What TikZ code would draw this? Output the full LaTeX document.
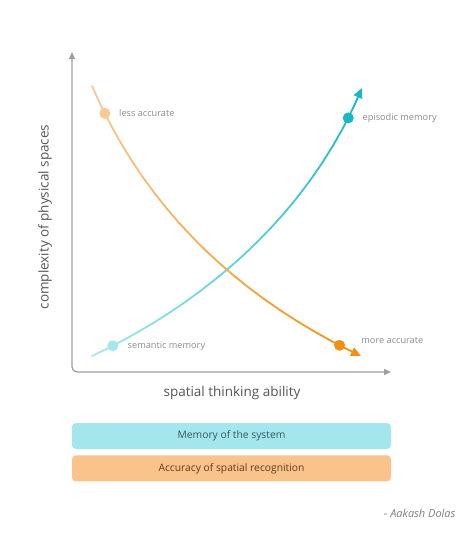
\documentclass[tikz,border=0pt]{standalone}
\usepackage{fontspec}
\setmainfont{Open Sans}
\usepackage{xcolor}
\usetikzlibrary{arrows.meta, positioning}
\definecolor{axisgray}{HTML}{9E9E9E}
\definecolor{labelgray}{HTML}{8C8C8C}
\definecolor{titlegray}{HTML}{555555}
\definecolor{tealdark}{HTML}{19B8C4}
\definecolor{teallight}{HTML}{A8E6EB}
\definecolor{orangedark}{HTML}{F29012}
\definecolor{orangelight}{HTML}{F8C994}
\definecolor{tealbar}{HTML}{A3E7EC}
\definecolor{orangebar}{HTML}{F9C38B}
\definecolor{tealtext}{HTML}{35585C}
\definecolor{orangetext}{HTML}{5C3E22}

\begin{document}
\begin{tikzpicture}[x=1pt, y=-1pt,
  axis/.style={line width=1.2pt, color=axisgray, rounded corners=5pt,
    {Triangle[length=7pt, width=6pt]}-{Triangle[length=7pt, width=6pt]}},
  curve/.style={line width=1.8pt, line cap=round},
  tip/.style={-{Triangle[length=10pt, width=9pt]}},
  dot/.style={circle, minimum size=11pt, inner sep=0pt},
  lbl/.style={font=\fontsize{9.2}{11}\selectfont, text=labelgray, inner sep=0pt},
  axislbl/.style={font=\fontsize{13.5}{16}\selectfont, text=titlegray},
  bar/.style={rectangle, rounded corners=4pt, minimum width=319pt, minimum height=26pt,
    font=\fontsize{10.3}{12}\selectfont}]

  \useasboundingbox (0,0) rectangle (474,534);

  % axes
  \coordinate (ytop) at (72,52);
  \coordinate (xend) at (391,372);
  \draw[axis] (ytop) |- (xend);
  \node[axislbl] (xlabel) at (232,393) {spatial thinking ability};
  \node[axislbl, rotate=90] (ylabel) at (45,217) {complexity of physical spaces};

  % memory curve
  \coordinate (tstart) at (92,356);
  \coordinate (tc1) at (190,310);
  \coordinate (tc2) at (305,225);
  \coordinate (tend) at (362,88);
  \foreach \i [evaluate=\i as \t using \i/20] in {0,...,20}
    \path (tstart) .. controls (tc1) and (tc2) .. (tend) coordinate[pos=\t] (t\i);
  \foreach \i [evaluate=\i as \p using int(100*\i/19), count=\j from 1] in {0,...,18}
    \draw[curve, color=tealdark!\p!teallight] (t\i) -- (t\j);
  \draw[curve, tip, tealdark] (t19) -- (t20);

  % accuracy curve
  \coordinate (ostart) at (92,86);
  \coordinate (oc1) at (150,220);
  \coordinate (oc2) at (250,303);
  \coordinate (oend) at (361,356);
  \foreach \i [evaluate=\i as \t using \i/20] in {0,...,20}
    \path (ostart) .. controls (oc1) and (oc2) .. (oend) coordinate[pos=\t] (o\i);
  \foreach \i [evaluate=\i as \p using int(100*\i/19), count=\j from 1] in {0,...,18}
    \draw[curve, color=orangedark!\p!orangelight] (o\i) -- (o\j);
  \draw[curve, tip, orangedark] (o19) -- (o20);

  % points
  \path (tstart) .. controls (tc1) and (tc2) .. (tend)
    node[dot, fill=teallight, pos=0.07] (semantic) {}
    node[dot, fill=tealdark, pos=0.925] (episodic) {};
  \path (ostart) .. controls (oc1) and (oc2) .. (oend)
    node[dot, fill=orangelight, pos=0.07] (less) {}
    node[dot, fill=orangedark, pos=0.935] (more) {};

  \node[lbl, right=9pt of semantic] (semlbl) {semantic memory};
  \node[lbl, right=8.5pt of episodic] (epilbl) {episodic memory};
  \node[lbl, right=8.5pt of less] (lesslbl) {less accurate};
  \node[lbl, right=16pt of more, yshift=5pt] (morelbl) {more accurate};

  % legend
  \node[bar, fill=tealbar, text=tealtext] (memory) at (231.5,436) {Memory of the system};
  \node[bar, fill=orangebar, text=orangetext, below=6pt of memory] (accuracy) {Accuracy of spatial recognition};

  \node[font=\fontsize{11}{13}\selectfont\itshape, text=gray, anchor=east] (author) at (459,513) {- Aakash Dolas};
\end{tikzpicture}
\end{document}
